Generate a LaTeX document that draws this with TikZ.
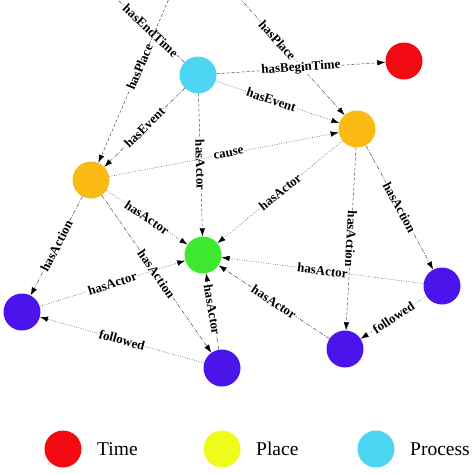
\documentclass[tikz,border=0pt]{standalone}
\usepackage{fontspec}
\setmainfont{Liberation Serif}
\usetikzlibrary{arrows.meta}
\definecolor{timered}{HTML}{F20A12}
\definecolor{placeyellow}{HTML}{EEFB1B}
\definecolor{proccyan}{HTML}{4DD5F2}
\definecolor{evtorange}{HTML}{FBB913}
\definecolor{actgreen}{HTML}{3EE82E}
\definecolor{actpurple}{HTML}{4B14EB}

\begin{document}
\begin{tikzpicture}[x=1pt,y=-1pt,
    ent/.style={circle,minimum size=37pt,inner sep=0pt},
    rel/.style={draw=gray!60!black,line width=.5pt,-{Latex[length=8pt,width=5.5pt,color=black]}},
    dots/.style={dash pattern=on .8pt off 1.6pt},
    dashes/.style={dash pattern=on 3pt off 2pt},
    dashdot/.style={dash pattern=on 4pt off 1.5pt on .8pt off 1.5pt},
    lab/.style={sloped,fill=white,inner sep=.6pt,font=\bfseries\fontsize{13}{13}\selectfont}]
      \useasboundingbox (0,0) rectangle (474,474);
      \clip (0,0) rectangle (474,474);
      \node[ent,fill=proccyan] (proc) at (198,75) {};
      \node[ent,fill=timered] (tbeg) at (404,61) {};
      \node[ent,fill=evtorange] (evR) at (357,129) {};
      \node[ent,fill=evtorange] (evL) at (91,180) {};
      \node[ent,fill=actgreen] (actor) at (203,255) {};
      \node[ent,fill=actpurple] (aL) at (22,312) {};
      \node[ent,fill=actpurple] (aB) at (222,368) {};
      \node[ent,fill=actpurple] (aM) at (345,349) {};
      \node[ent,fill=actpurple] (aR) at (442,286) {};
      \coordinate (place) at (192,-55);
      \coordinate (tend) at (88,-28);
      \draw[rel,dashdot] (proc) -- node[lab,pos=.35]{hasEndTime} (tend);
      \draw[rel,dashes] (place) -- node[lab,pos=.56]{hasPlace} (evL);
      \draw[rel,dashdot] (place) -- node[lab,pos=.56]{hasPlace} (evR);
      \draw[rel,dashes] (proc) -- node[lab]{hasBeginTime} (tbeg);
      \draw[rel,dots] (proc) -- node[lab,pos=.45]{hasEvent} (evR);
      \draw[rel,dashdot] (proc) -- node[lab]{hasEvent} (evL);
      \draw[rel,dashes] (proc) -- node[lab]{hasActor} (actor);
      \draw[rel,dots] (evL) -- node[lab,pos=.52]{cause} (evR);
      \draw[rel,dots] (evL) -- node[lab]{hasActor} (actor);
      \draw[rel,dashdot] (evL) -- node[lab]{hasAction} (aL);
      \draw[rel,dashdot] (evL) -- node[lab]{hasAction} (aB);
      \draw[rel,dots] (evR) -- node[lab]{hasActor} (actor);
      \draw[rel,dashes] (evR) -- node[lab,allow upside down]{hasAction} (aM);
      \draw[rel,dashdot] (evR) -- node[lab]{hasAction} (aR);
      \draw[rel,dots] (aR) -- node[lab]{hasActor} (actor);
      \draw[rel,dots] (aR) -- node[lab]{followed} (aM);
      \draw[rel,dashdot] (aM) -- node[lab]{hasActor} (actor);
      \draw[rel,dots] (aL) -- node[lab]{hasActor} (actor);
      \draw[rel,dots] (aB) -- node[lab]{followed} (aL);
      \draw[rel,dashdot] (aB) -- node[lab,pos=.52]{hasActor} (actor);
      \foreach \c/\x/\t in {timered/63/Time, placeyellow/222/Place, proccyan/376/Process}{
        \node[ent,fill=\c] (leg\t) at (\x,449) {};
        \node[anchor=west,font=\fontsize{19.5}{20}\selectfont] (legtxt\t) at ([xshift=12pt]leg\t.east) {\t};}
    \end{tikzpicture}
\end{document}
